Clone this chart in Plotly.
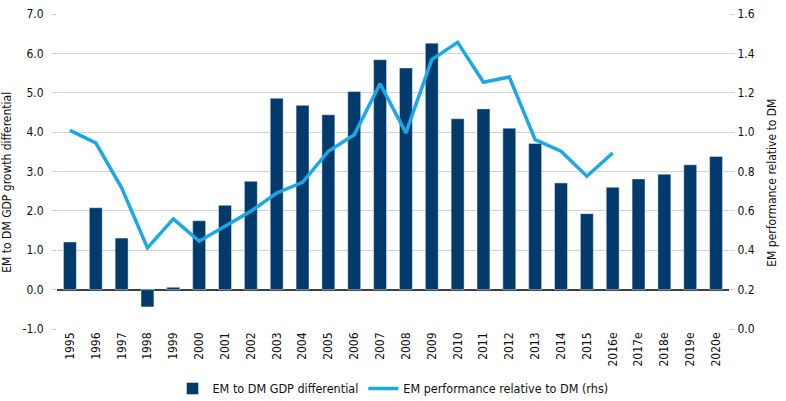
import plotly.graph_objects as go

years = ["1995", "1996", "1997", "1998", "1999", "2000", "2001", "2002", "2003", "2004",
         "2005", "2006", "2007", "2008", "2009", "2010", "2011", "2012", "2013", "2014",
         "2015", "2016e", "2017e", "2018e", "2019e", "2020e"]
gdp_diff = [1.21, 2.08, 1.31, -0.44, 0.06, 1.75, 2.14, 2.75, 4.86, 4.68,
            4.44, 5.03, 5.84, 5.63, 6.26, 4.34, 4.59, 4.10, 3.71, 2.71,
            1.93, 2.60, 2.81, 2.93, 3.17, 3.38]
em_perf = [1.009, 0.945, 0.717, 0.412, 0.559, 0.446, 0.522, 0.598, 0.691, 0.745,
           0.903, 0.987, 1.246, 0.996, 1.368, 1.456, 1.253, 1.280, 0.962, 0.903,
           0.776, 0.894, None, None, None, None]
left_ticks = [-1, 0, 1, 2, 3, 4, 5, 6, 7]
left_labels = ["-1.0", "0.0", "1.0", "2.0", "3.0", "4.0", "5.0", "6.0", "7.0"]
right_ticks = [0, 0.2, 0.4, 0.6, 0.8, 1.0, 1.2, 1.4, 1.6]
right_labels = ["0.0", "0.2", "0.4", "0.6", "0.8", "1.0", "1.2", "1.4", "1.6"]

FONT = "DejaVu Sans Condensed, Liberation Sans Narrow, sans-serif"
NAVY = "#013a6b"
BLUE = "#1aa8e6"

fig = go.Figure()
fig.add_trace(go.Bar(x=years, y=gdp_diff, name="EM to DM GDP differential",
                     marker_color=NAVY, yaxis="y"))
fig.add_trace(go.Scatter(x=years, y=em_perf, name="EM performance relative to DM (rhs)",
                         mode="lines", line=dict(color=BLUE, width=3.5), yaxis="y2",
                         connectgaps=False))

fig.update_layout(
    width=786, height=401,
    margin=dict(l=57, r=57, t=14, b=71.5, autoexpand=False),
    paper_bgcolor="white", plot_bgcolor="white",
    font=dict(family=FONT, size=12, color="#111111"),
    bargap=0.5,
    showlegend=True,
    legend=dict(orientation="h", x=0.5, xanchor="center", y=-0.19, yanchor="middle",
                font=dict(size=12.5), itemwidth=30, tracegroupgap=0),
    xaxis=dict(type="category", tickangle=-90, showgrid=False, showline=False,
               ticks="", tickfont=dict(size=12)),
    yaxis=dict(range=[-1, 7], tickvals=left_ticks, ticktext=left_labels, showgrid=True,
               gridcolor="#d4d4d4", gridwidth=1, zeroline=True,
               zerolinecolor="#404040", zerolinewidth=1.5,
               ticks="outside", ticklen=5, tickcolor="#d4d4d4",
               ticklabelstandoff=5, tickfont=dict(size=12)),
    yaxis2=dict(range=[0, 1.6], tickvals=right_ticks, ticktext=right_labels,
                overlaying="y", side="right", showgrid=False, zeroline=False,
                ticks="outside", ticklen=5, tickcolor="#d4d4d4",
                tickfont=dict(size=12)),
    annotations=[
        dict(text="EM to DM GDP growth differential", x=7, y=183, xref="paper",
             yref="paper", showarrow=False, textangle=-90,
             font=dict(size=12)),
        dict(text="EM performance relative to DM", x=772, y=183, xref="paper",
             yref="paper", showarrow=False, textangle=-90,
             font=dict(size=12)),
    ],
)

# convert pixel positions of axis titles to paper coordinates
plot_l, plot_r, plot_t, plot_b = 57, 729, 14, 329.5
for a in fig.layout.annotations:
    px, py = a.x, a.y
    a.x = (px - plot_l) / (plot_r - plot_l)
    a.y = (plot_b - py) / (plot_b - plot_t)
    a.xanchor = "center"
    a.yanchor = "middle"

fig.write_html("out.html",
               config={"displayModeBar": False},
               post_script="document.body.style.margin='0px';document.body.style.overflow='hidden';")
